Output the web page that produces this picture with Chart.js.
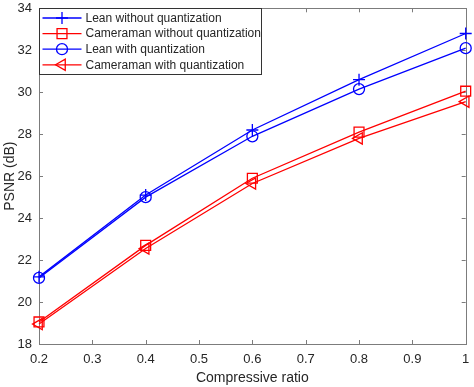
<!DOCTYPE html>
<html>
<head>
<meta charset="utf-8">
<script src="https://cdn.jsdelivr.net/npm/chart.js@4/dist/chart.umd.min.js"></script>
<style>
  html, body { margin: 0; padding: 0; background: #fff; }
  #wrap { width: 474px; height: 387px; position: relative; }
</style>
</head>
<body>
<div id="wrap"><canvas id="chart"></canvas></div>
<script>
const ratios = [0.2, 0.4, 0.6, 0.8, 1.0];
const leanNoQ = [21.2, 25.1, 28.2, 30.6, 32.8];
const cameraNoQ = [19.05, 22.7, 25.9, 28.1, 30.05];
const leanQ = [21.15, 25.0, 27.9, 30.15, 32.1];
const cameraQ = [18.95, 22.55, 25.65, 27.8, 29.55];
const seriesNames = ['Lean without quantization', 'Cameraman without quantization', 'Lean with quantization', 'Cameraman with quantization'];
const xTicks = [0.2, 0.3, 0.4, 0.5, 0.6, 0.7, 0.8, 0.9, 1.0];
const yTicks = [18, 20, 22, 24, 26, 28, 30, 32, 34];

const BLUE = '#0000ff';
const RED = '#ff0000';
const AXIS = '#7c7c7c';
const TEXT = '#262626';
const FONT = 'Arial, "Liberation Sans", sans-serif';

function pts(ys) {
  return ratios.map((x, i) => ({ x, y: ys[i] }));
}

const styles = [
  { color: BLUE, pointStyle: 'cross', radius: 6, rotation: 0 },
  { color: RED, pointStyle: 'rect', radius: 7, rotation: 0 },
  { color: BLUE, pointStyle: 'circle', radius: 5.5, rotation: 0 },
  { color: RED, pointStyle: 'triangle', radius: 6.5, rotation: -90 }
];
const values = [leanNoQ, cameraNoQ, leanQ, cameraQ];

const datasets = values.map((ys, i) => ({
  label: seriesNames[i],
  data: pts(ys),
  borderColor: styles[i].color,
  backgroundColor: 'transparent',
  borderWidth: 1.3,
  pointStyle: styles[i].pointStyle,
  pointRadius: styles[i].radius,
  pointRotation: styles[i].rotation,
  pointBorderColor: styles[i].color,
  pointBackgroundColor: 'transparent',
  pointBorderWidth: 1.3,
  tension: 0,
  clip: false
}));

// box around the axes with inward ticks, like matlab
const boxPlugin = {
  id: 'box',
  beforeDatasetsDraw(chart) {
    const { ctx, chartArea: a, scales } = chart;
    ctx.save();
    ctx.strokeStyle = AXIS;
    ctx.lineWidth = 1;
    ctx.strokeRect(Math.round(a.left) + 0.5, Math.round(a.top) + 0.5, Math.round(a.right - a.left), Math.round(a.bottom - a.top));
    const len = 4;
    ctx.beginPath();
    xTicks.forEach(v => {
      const px = Math.round(scales.x.getPixelForValue(v)) + 0.5;
      ctx.moveTo(px, a.bottom); ctx.lineTo(px, a.bottom - len);
      ctx.moveTo(px, a.top); ctx.lineTo(px, a.top + len);
    });
    yTicks.forEach(v => {
      const py = Math.round(scales.y.getPixelForValue(v)) + 0.5;
      ctx.moveTo(a.left, py); ctx.lineTo(a.left + len, py);
      ctx.moveTo(a.right, py); ctx.lineTo(a.right - len, py);
    });
    ctx.stroke();
    ctx.restore();
  }
};

function drawMarker(ctx, style, x, y) {
  const r = style.radius;
  ctx.beginPath();
  if (style.pointStyle === 'cross') {
    ctx.moveTo(x - r, y); ctx.lineTo(x + r, y);
    ctx.moveTo(x, y - r); ctx.lineTo(x, y + r);
  } else if (style.pointStyle === 'rect') {
    const s = Math.SQRT1_2 * r;
    ctx.rect(x - s, y - s, 2 * s, 2 * s);
  } else if (style.pointStyle === 'circle') {
    ctx.arc(x, y, r, 0, Math.PI * 2);
  } else {
    // left pointing triangle
    ctx.moveTo(x - r, y);
    ctx.lineTo(x + r * 0.5, y - r * 0.866);
    ctx.lineTo(x + r * 0.5, y + r * 0.866);
    ctx.closePath();
  }
  ctx.stroke();
}

const legendPlugin = {
  id: 'innerLegend',
  afterDatasetsDraw(chart) {
    const { ctx, chartArea: a } = chart;
    const bx = Math.round(a.left) + 0.5, by = Math.round(a.top) + 0.5;
    const bw = 222, bh = 66;
    ctx.save();
    ctx.fillStyle = '#fff';
    ctx.fillRect(bx, by, bw, bh);
    ctx.strokeStyle = '#333';
    ctx.lineWidth = 1;
    ctx.strokeRect(bx, by, bw, bh);
    ctx.font = '12px ' + FONT;
    ctx.textBaseline = 'middle';
    seriesNames.forEach((name, i) => {
      const y = by + 9.5 + i * 15.6;
      ctx.strokeStyle = styles[i].color;
      ctx.lineWidth = 1.3;
      ctx.beginPath();
      ctx.moveTo(bx + 3, y); ctx.lineTo(bx + 42, y);
      ctx.stroke();
      drawMarker(ctx, styles[i], bx + 22.5, y);
      ctx.fillStyle = TEXT;
      ctx.fillText(name, bx + 46, y + 0.5);
    });
    ctx.restore();
  }
};

new Chart(document.getElementById('chart'), {
  type: 'line',
  data: { datasets },
  options: {
    responsive: true,
    maintainAspectRatio: false,
    animation: false,
    layout: { padding: { top: 7, right: 8, left: 0, bottom: 0 } },
    plugins: { legend: { display: false }, tooltip: { enabled: false } },
    scales: {
      x: {
        type: 'linear',
        min: 0.2,
        max: 1,
        afterBuildTicks: s => { s.ticks = xTicks.map(v => ({ value: v })); },
        afterFit: s => { s.height = 43; s.paddingLeft = 0; s.paddingRight = 0; },
        grid: { display: false, drawTicks: false },
        border: { display: false },
        ticks: {
          padding: 8,
          color: TEXT,
          font: { size: 13, family: FONT },
          maxRotation: 0,
          callback: v => String(+v.toFixed(1))
        },
        title: {
          display: true,
          text: 'Compressive ratio',
          color: TEXT,
          font: { size: 14, family: FONT },
          padding: { top: 0, bottom: 0.5 }
        }
      },
      y: {
        min: 18,
        max: 34,
        afterBuildTicks: s => { s.ticks = yTicks.map(v => ({ value: v })); },
        afterFit: s => { s.width = 39; s.paddingTop = 0; s.paddingBottom = 0; },
        grid: { display: false, drawTicks: false },
        border: { display: false },
        ticks: {
          padding: 7,
          color: TEXT,
          font: { size: 13, family: FONT }
        },
        title: {
          display: true,
          text: 'PSNR (dB)',
          color: TEXT,
          font: { size: 14, family: FONT },
          padding: { top: 2, bottom: 0 }
        }
      }
    }
  },
  plugins: [boxPlugin, legendPlugin]
});
</script>
</body>
</html>
